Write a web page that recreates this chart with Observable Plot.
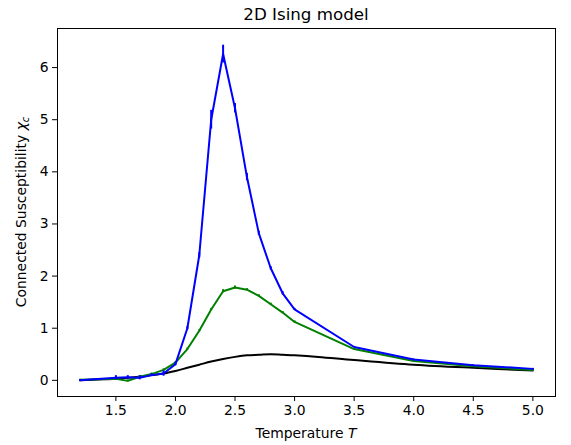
<!DOCTYPE html>
<html>
<head>
<meta charset="utf-8">
<script src="https://cdn.jsdelivr.net/npm/d3@7"></script>
<script src="https://cdn.jsdelivr.net/npm/@observablehq/plot@0.6"></script>
<style>
  body { margin: 0; background: white; }
</style>
</head>
<body>
<div id="chart"></div>
<script>
// Monte Carlo, L grande (azul)
const tBlue = [1.2, 1.5, 1.6, 1.7, 1.8, 1.9, 2.0, 2.1, 2.2, 2.3, 2.4, 2.5, 2.6, 2.7, 2.8, 2.9, 3.0, 3.5, 4.0, 4.5, 5.0]
const chiBlue = [0.0, 0.05, 0.06, 0.05, 0.1, 0.13, 0.31, 1.0, 2.4, 5.0, 6.26, 5.22, 3.9, 2.82, 2.15, 1.67, 1.36, 0.64, 0.4, 0.29, 0.22]
const errBlue = [0.01, 0.04, 0.03, 0.04, 0.03, 0.05, 0.03, 0.03, 0.05, 0.18, 0.17, 0.09, 0.07, 0.04, 0.03, 0.03, 0.02, 0.01, 0.01, 0.01, 0.01]

// Monte Carlo, L chico (verde)
const tGreen = [1.2, 1.5, 1.6, 1.7, 1.8, 1.9, 2.0, 2.1, 2.2, 2.3, 2.4, 2.5, 2.6, 2.7, 2.8, 2.9, 3.0, 3.5, 4.0, 4.5, 5.0]
const chiGreen = [0.01, 0.03, -0.01, 0.07, 0.12, 0.2, 0.34, 0.6, 0.95, 1.36, 1.71, 1.78, 1.74, 1.62, 1.46, 1.3, 1.12, 0.6, 0.37, 0.27, 0.2]
const errGreen = [0.01, 0.02, 0.02, 0.02, 0.02, 0.02, 0.02, 0.02, 0.02, 0.02, 0.03, 0.03, 0.02, 0.02, 0.02, 0.02, 0.02, 0.01, 0.01, 0.01, 0.01]

// curva teorica (negra)
const tBlack = [1.2, 1.3, 1.4, 1.5, 1.6, 1.7, 1.8, 1.9, 2.0, 2.1, 2.2, 2.3, 2.4, 2.5, 2.6, 2.7, 2.8, 2.9, 3.0, 3.2, 3.5, 4.0, 4.5, 5.0]
const chiBlack = [0.0, 0.01, 0.02, 0.03, 0.05, 0.07, 0.1, 0.13, 0.18, 0.24, 0.3, 0.36, 0.41, 0.45, 0.48, 0.49, 0.5, 0.49, 0.48, 0.45, 0.39, 0.3, 0.24, 0.19]

const xTicks = [1.5, 2.0, 2.5, 3.0, 3.5, 4.0, 4.5, 5.0]
const yTicks = [0, 1, 2, 3, 4, 5, 6]

const blue = tBlue.map((t, i) => ({T: t, chi: chiBlue[i], err: errBlue[i]}))
const green = tGreen.map((t, i) => ({T: t, chi: chiGreen[i], err: errGreen[i]}))
const black = tBlack.map((t, i) => ({T: t, chi: chiBlack[i]}))

const W = 571, H = 445
const mL = 57, mR = 16, mT = 28, mB = 49

let chart = Plot.plot({
  width: W,
  height: H,
  marginLeft: mL,
  marginRight: mR,
  marginTop: mT,
  marginBottom: mB,
  style: {fontFamily: 'DejaVu Sans', fontSize: '13.9px', background: 'white', color: 'black'},
  x: {domain: [1.01, 5.19]},
  y: {domain: [-0.31, 6.75]},
  marks: [
    Plot.frame({stroke: 'black', strokeWidth: 1}),
    Plot.axisX({ticks: xTicks, tickFormat: d3.format('.1f'), tickSize: 5, tickPadding: 4, label: null, fontSize: 13.9}),
    Plot.axisY({ticks: yTicks, tickFormat: d3.format('d'), tickSize: 5, tickPadding: 4, label: null, fontSize: 13.9}),
    Plot.line(black, {x: 'T', y: 'chi', stroke: 'black', strokeWidth: 2, curve: 'catmull-rom'}),
    Plot.line(green, {x: 'T', y: 'chi', stroke: '#008000', strokeWidth: 2}),
    Plot.ruleX(green, {x: 'T', y1: d => d.chi - d.err, y2: d => d.chi + d.err, stroke: '#008000', strokeWidth: 2}),
    Plot.line(blue, {x: 'T', y: 'chi', stroke: '#0000ff', strokeWidth: 2}),
    Plot.ruleX(blue, {x: 'T', y1: d => d.chi - d.err, y2: d => d.chi + d.err, stroke: '#0000ff', strokeWidth: 2}),
  ],
})

// titulo y etiquetas de ejes (con cursiva)
const svg = d3.select(chart)
svg.append('text')
  .attr('x', mL + (W - mL - mR) / 2).attr('y', 20)
  .attr('text-anchor', 'middle').attr('font-size', 16.7)
  .text('2D Ising model')

const xl = svg.append('text')
  .attr('x', mL + (W - mL - mR) / 2).attr('y', 438)
  .attr('text-anchor', 'middle').attr('font-size', 13.9)
xl.append('tspan').text('Temperature ')
xl.append('tspan').attr('font-style', 'italic').text('T')

const yl = svg.append('text')
  .attr('transform', `translate(26,${mT + (H - mT - mB) / 2}) rotate(-90)`)
  .attr('text-anchor', 'middle').attr('font-size', 13.9)
yl.append('tspan').text('Connected Susceptibility ')
yl.append('tspan').attr('font-style', 'italic').text('χ')
yl.append('tspan').attr('font-style', 'italic').attr('font-size', 9.7).attr('dy', 3).text('c')

d3.select('#chart').append(() => chart)
</script>
</body>
</html>
